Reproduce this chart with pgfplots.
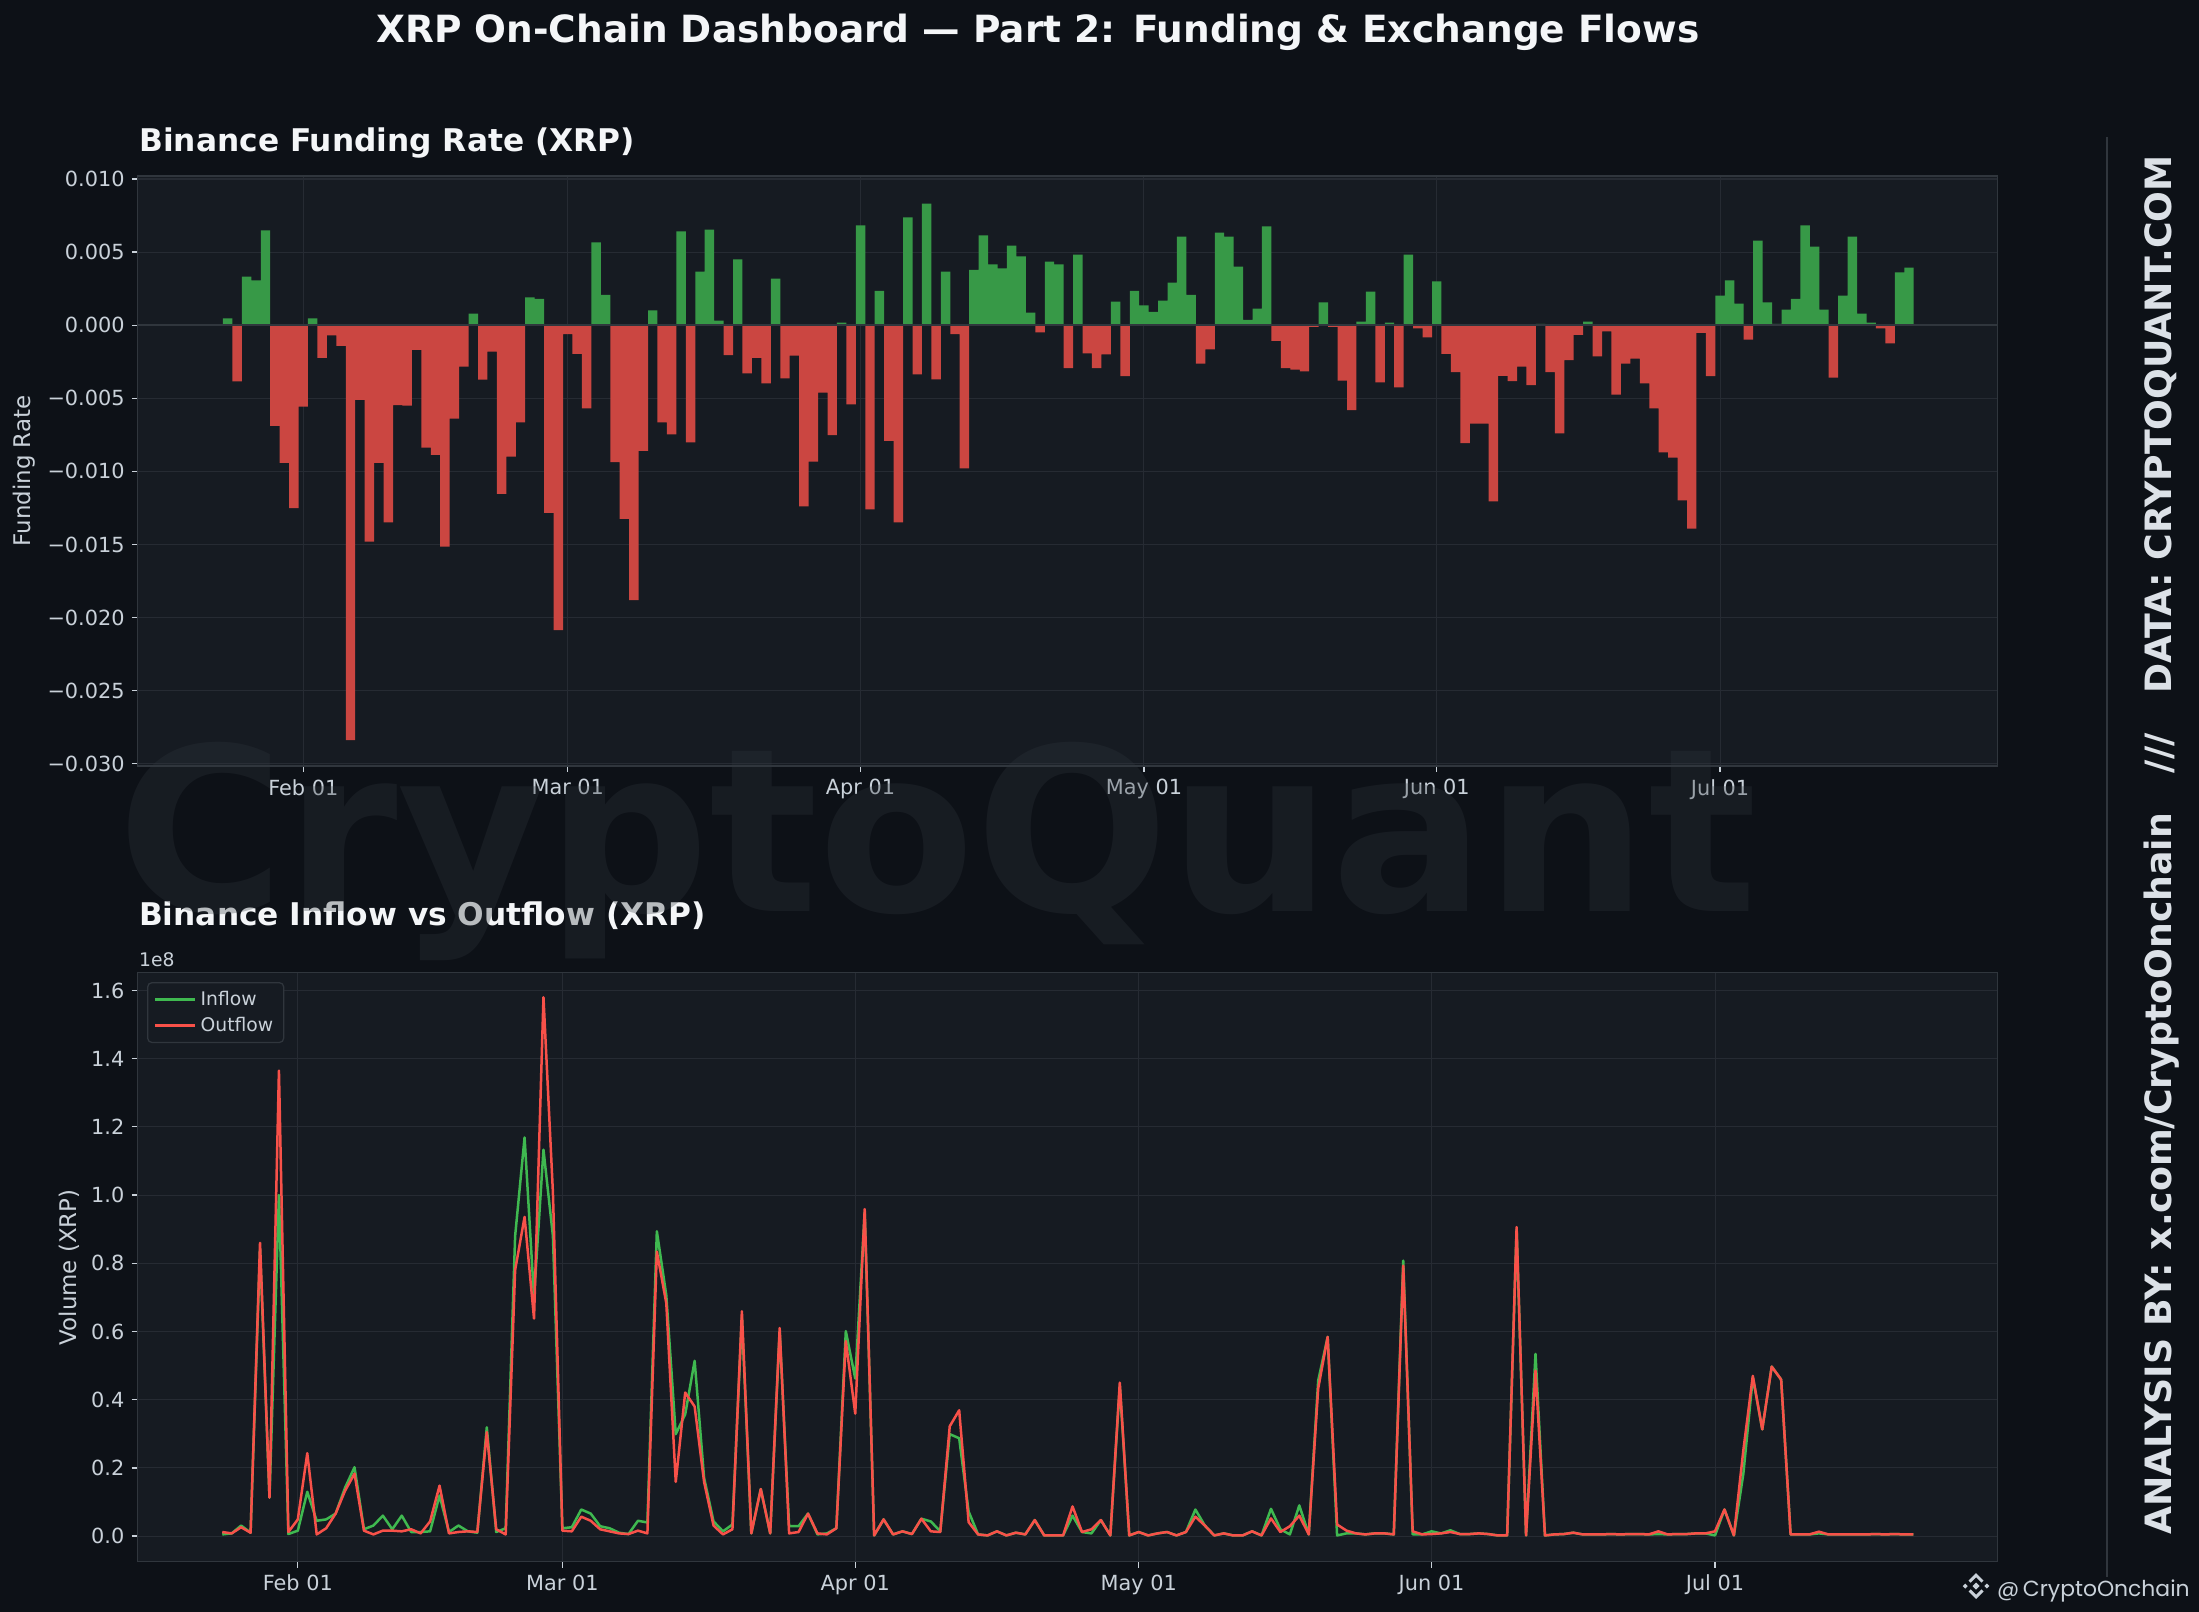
\documentclass[border=0pt]{standalone}
\usepackage{fontspec}
\setmainfont{DejaVu Sans}
\newfontfamily\footfont{Poppins}
\usepackage{pgfplots}
\pgfplotsset{compat=1.18}
\usepackage{pgfplotstable}
\definecolor{figbg}{HTML}{0D1117}
\definecolor{axbg}{HTML}{161B22}
\definecolor{gridc}{HTML}{262B33}
\definecolor{spine}{HTML}{30363D}
\definecolor{tickc}{HTML}{C9D1D9}
\definecolor{titlec}{HTML}{F4F6F8}
\definecolor{barg}{HTML}{379947}
\definecolor{barr}{HTML}{CB4641}
\definecolor{inc}{HTML}{3FB950}
\definecolor{outc}{HTML}{F85149}
\definecolor{sidec}{HTML}{DCE1E7}

\pgfplotstableread{
day fr
23 0.00046
24 -0.00385
25 0.00333
26 0.00306
27 0.00648
28 -0.00688
29 -0.00942
30 -0.01251
31 -0.00557
32 0.00046
33 -0.00223
34 -0.00070
35 -0.00141
36 -0.02838
37 -0.00511
38 -0.01480
39 -0.00942
40 -0.01349
41 -0.00547
42 -0.00550
43 -0.00168
44 -0.00838
45 -0.00887
46 -0.01514
47 -0.00639
48 -0.00284
49 0.00080
50 -0.00373
51 -0.00180
52 -0.01153
53 -0.00899
54 -0.00664
55 0.00190
56 0.00180
57 -0.01284
58 -0.02086
59 -0.00061
60 -0.00196
61 -0.00569
62 0.00566
63 0.00208
64 -0.00936
65 -0.01324
66 -0.01881
67 -0.00859
68 0.00101
69 -0.00664
70 -0.00746
71 0.00642
72 -0.00801
73 0.00367
74 0.00654
75 0.00031
76 -0.00205
77 0.00450
78 -0.00330
79 -0.00223
80 -0.00398
81 0.00318
82 -0.00364
83 -0.00208
84 -0.01239
85 -0.00933
86 -0.00462
87 -0.00752
88 0.00018
89 -0.00541
90 0.00682
91 -0.01260
92 0.00235
93 -0.00792
94 -0.01349
95 0.00737
96 -0.00336
97 0.00832
98 -0.00370
99 0.00367
100 -0.00061
101 -0.00979
102 0.00379
103 0.00615
104 0.00416
105 0.00388
106 0.00544
107 0.00471
108 0.00086
109 -0.00049
110 0.00434
111 0.00416
112 -0.00294
113 0.00483
114 -0.00193
115 -0.00294
116 -0.00199
117 0.00162
118 -0.00349
119 0.00235
120 0.00135
121 0.00092
122 0.00168
123 0.00291
124 0.00606
125 0.00208
126 -0.00263
127 -0.00165
128 0.00633
129 0.00606
130 0.00401
131 0.00037
132 0.00113
133 0.00676
134 -0.00107
135 -0.00294
136 -0.00303
137 -0.00315
138 -0.00012
139 0.00156
140 -0.00012
141 -0.00379
142 -0.00581
143 0.00024
144 0.00229
145 -0.00391
146 0.00018
147 -0.00425
148 0.00483
149 -0.00021
150 -0.00083
151 0.00300
152 -0.00196
153 -0.00321
154 -0.00807
155 -0.00673
156 -0.00673
157 -0.01205
158 -0.00346
159 -0.00382
160 -0.00284
161 -0.00410
162 0.00009
163 -0.00321
164 -0.00740
165 -0.00239
166 -0.00067
167 0.00024
168 -0.00214
169 -0.00043
170 -0.00474
171 -0.00263
172 -0.00229
173 -0.00398
174 -0.00569
175 -0.00869
176 -0.00905
177 -0.01199
178 -0.01391
179 -0.00052
180 -0.00349
181 0.00202
182 0.00306
183 0.00147
184 -0.00098
185 0.00578
186 0.00156
187 0.00009
188 0.00107
189 0.00180
190 0.00682
191 0.00538
192 0.00107
193 -0.00358
194 0.00202
195 0.00606
196 0.00080
197 0.00018
198 -0.00021
199 -0.00125
200 0.00361
201 0.00394
}\fundingtable

\pgfplotstableread{
day inflow outflow
23 0.005 0.012
24 0.008 0.008
25 0.031 0.026
26 0.010 0.010
27 0.84 0.86
28 0.113 0.113
29 1.00 1.365
30 0.006 0.012
31 0.016 0.049
32 0.13 0.243
33 0.045 0.005
34 0.049 0.023
35 0.066 0.066
36 0.142 0.133
37 0.202 0.183
38 0.020 0.016
39 0.031 0.005
40 0.060 0.016
41 0.020 0.016
42 0.060 0.014
43 0.012 0.020
44 0.012 0.008
45 0.014 0.043
46 0.119 0.148
47 0.012 0.008
48 0.031 0.012
49 0.014 0.014
50 0.010 0.012
51 0.319 0.305
52 0.012 0.020
53 0.023 0.005
54 0.88 0.78
55 1.169 0.936
56 0.70 0.638
57 1.133 1.580
58 0.88 1.008
59 0.023 0.016
60 0.026 0.014
61 0.078 0.057
62 0.066 0.045
63 0.029 0.020
64 0.023 0.014
65 0.010 0.008
66 0.006 0.006
67 0.045 0.016
68 0.040 0.008
69 0.894 0.834
70 0.706 0.683
71 0.299 0.159
72 0.357 0.421
73 0.514 0.380
74 0.171 0.159
75 0.043 0.031
76 0.014 0.005
77 0.034 0.020
78 0.64 0.659
79 0.008 0.008
80 0.138 0.138
81 0.008 0.008
82 0.60 0.610
83 0.029 0.008
84 0.029 0.012
85 0.066 0.066
86 0.005 0.008
87 0.008 0.005
88 0.023 0.023
89 0.601 0.572
90 0.462 0.359
91 0.95 0.959
92 0.002 0.002
93 0.049 0.049
94 0.005 0.005
95 0.014 0.014
96 0.006 0.006
97 0.051 0.051
98 0.043 0.014
99 0.014 0.012
100 0.299 0.322
101 0.287 0.369
102 0.072 0.041
103 0.005 0.005
104 0.002 0.002
105 0.014 0.014
106 0.002 0.002
107 0.010 0.010
108 0.005 0.005
109 0.047 0.047
110 0.002 0.002
111 0.002 0.002
112 0.002 0.002
113 0.060 0.087
114 0.012 0.012
115 0.008 0.020
116 0.047 0.047
117 0.002 0.002
118 0.44 0.45
119 0.002 0.002
120 0.012 0.012
121 0.002 0.002
122 0.008 0.008
123 0.012 0.012
124 0.002 0.002
125 0.012 0.012
126 0.078 0.057
127 0.031 0.031
128 0.002 0.002
129 0.008 0.008
130 0.002 0.002
131 0.002 0.002
132 0.014 0.014
133 0.002 0.002
134 0.080 0.052
135 0.020 0.012
136 0.005 0.029
137 0.090 0.060
138 0.005 0.005
139 0.456 0.433
140 0.584 0.584
141 0.002 0.034
142 0.008 0.016
143 0.008 0.008
144 0.005 0.005
145 0.008 0.008
146 0.008 0.008
147 0.005 0.005
148 0.808 0.793
149 0.005 0.014
150 0.005 0.005
151 0.014 0.006
152 0.008 0.008
153 0.017 0.012
154 0.006 0.006
155 0.006 0.006
156 0.008 0.008
157 0.006 0.006
158 0.002 0.002
159 0.002 0.002
160 0.90 0.906
161 0.002 0.002
162 0.534 0.485
163 0.002 0.002
164 0.005 0.005
165 0.006 0.006
166 0.010 0.010
167 0.005 0.005
168 0.005 0.005
169 0.005 0.005
170 0.006 0.006
171 0.005 0.005
172 0.006 0.006
173 0.006 0.006
174 0.005 0.005
175 0.006 0.014
176 0.005 0.005
177 0.006 0.006
178 0.006 0.006
179 0.008 0.008
180 0.008 0.008
181 0.002 0.014
182 0.078 0.078
183 0.002 0.002
184 0.183 0.252
185 0.465 0.470
186 0.313 0.313
187 0.497 0.497
188 0.459 0.459
189 0.005 0.005
190 0.005 0.005
191 0.005 0.005
192 0.008 0.013
193 0.005 0.005
194 0.005 0.005
195 0.005 0.005
196 0.005 0.005
197 0.005 0.005
198 0.006 0.006
199 0.005 0.005
200 0.006 0.006
201 0.005 0.005
202 0.005 0.005
}\flowtable

\pgfplotsset{
  darkax/.style={
    scale only axis,
    width=892.8pt,
    anchor=north west,
    axis background/.style={fill=axbg},
    axis line style={spine, line width=0.6pt},
    grid=major,
    major grid style={gridc, line width=0.5pt},
    tick align=outside,
    xtick pos=left, ytick pos=left,
    major tick length=2.8pt,
    tick style={tickc, line width=0.6pt},
    tick label style={font=\fontsize{10}{12}\selectfont, text=tickc},
    xtick={31,59,90,120,151,181},
    xticklabels={Feb 01,Mar 01,Apr 01,May 01,Jun 01,Jul 01},
    scaled y ticks=false,
  }
}

\begin{document}
\begin{tikzpicture}[x=1pt,y=1pt]
\fill[figbg] (0,0) rectangle (1055.52,-773.76);
\useasboundingbox (0,0) rectangle (1055.52,-773.76);

% top axis
\begin{axis}[darkax,
  at={(66.14pt,-84.43pt)},
  height=283.25pt,
  xmin=13.48, xmax=210.40,
  ymin=-0.03015, ymax=0.010212,
  ytick={-0.03,-0.025,-0.02,-0.015,-0.01,-0.005,0,0.005,0.01},
  yticklabels={−0.030,−0.025,−0.020,−0.015,−0.010,−0.005,0.000,0.005,0.010},
  ylabel={Funding Rate},
  every axis y label/.style={at={(axis description cs:-0.0612,0.5)}, rotate=90, anchor=center, font=\fontsize{11}{13}\selectfont, text=tickc},
]
\addplot[ybar, bar width=1, bar shift=0pt, fill=barg, draw=none, restrict y to domain=0:1] table[x=day,y=fr]{\fundingtable};
\addplot[ybar, bar width=1, bar shift=0pt, fill=barr, draw=none, restrict y to domain=-1:0] table[x=day,y=fr]{\fundingtable};
\addplot[spine, line width=0.7pt, mark=none, forget plot] coordinates {(13.48,0) (210.40,0)};
\end{axis}

% bottom axis
\begin{axis}[darkax,
  at={(66.0pt,-466.9pt)},
  height=282.77pt,
  xmin=14.03, xmax=210.9,
  ymin=-0.0754, ymax=1.652,
  ytick={0,0.2,0.4,0.6,0.8,1.0,1.2,1.4,1.6},
  yticklabels={0.0,0.2,0.4,0.6,0.8,1.0,1.2,1.4,1.6},
  ylabel={Volume (XRP)},
  every axis y label/.style={at={(axis description cs:-0.0369,0.5)}, rotate=90, anchor=center, font=\fontsize{11}{13}\selectfont, text=tickc},
  legend style={at={(0,1)}, anchor=north west, xshift=4.6pt, yshift=-4.5pt,
    fill=axbg, draw=spine, rounded corners=2pt, text=tickc,
    font=\fontsize{9}{11}\selectfont, inner xsep=3pt, inner ysep=2pt, line width=0.6pt},
  legend cell align=left,
  legend image code/.code={\draw[#1] (0pt,0pt) -- (19.2pt,0pt);},
]
\addplot[inc, line width=1.2pt, mark=none, line join=round] table[x=day,y=inflow]{\flowtable};
\addlegendentry{Inflow}
\addplot[outc, line width=1.2pt, mark=none, line join=round] table[x=day,y=outflow]{\flowtable};
\addlegendentry{Outflow}
\end{axis}

% titles
\node[anchor=base, text=titlec, font=\fontsize{18}{21}\selectfont\bfseries] at (498.2,-20.5) {XRP On-Chain Dashboard — Part 2: Funding \& Exchange Flows};
\node[anchor=base west, inner sep=0pt, text=titlec, font=\fontsize{15}{18}\selectfont\bfseries] at (66.7,-72.8) {Binance Funding Rate (XRP)};
\node[anchor=base west, inner sep=0pt, text=titlec, font=\fontsize{15}{18}\selectfont\bfseries] at (66.6,-444.0) {Binance Inflow vs Outflow (XRP)};
\node[anchor=base west, inner sep=0pt, text=tickc, font=\fontsize{9}{11}\selectfont] at (66.6,-464.0) {1e8};

% watermark
\node[anchor=base, inner sep=0pt, text=spine, text opacity=0.3, font=\fontsize{109.5}{112}\selectfont\bfseries] at (450.0,-437.3) {CryptoQuant};

% right side
\draw[spine, line width=1pt] (1011.2,-65.8) -- (1011.2,-757);
\node[rotate=90, anchor=center, inner sep=0pt, text=sidec, font=\fontsize{17.4}{20}\selectfont\bfseries] at (1037.6,-405.6) {ANALYSIS BY: x.com/CryptoOnchain\hspace{1.1em}///\hspace{1.1em}DATA: CRYPTOQUANT.COM};

% footer
\begin{scope}[shift={(948.5,-761.3)}, fill=tickc]
\fill (0,1.7) -- (1.7,0) -- (0,-1.7) -- (-1.7,0) -- cycle;
\fill (-5.2,1.2) -- (-4.0,0) -- (-5.2,-1.2) -- (-6.4,0) -- cycle;
\fill (5.2,1.2) -- (6.4,0) -- (5.2,-1.2) -- (4.0,0) -- cycle;
\fill (0,6.2) -- (3.6,2.6) -- (2.6,1.6) -- (0,4.2) -- (-2.6,1.6) -- (-3.6,2.6) -- cycle;
\fill (0,-6.2) -- (3.6,-2.6) -- (2.6,-1.6) -- (0,-4.2) -- (-2.6,-1.6) -- (-3.6,-2.6) -- cycle;
\end{scope}
\node[anchor=base west, inner sep=0pt, text=tickc, font=\footfont\fontsize{10.5}{12}\selectfont] at (958.4,-766.1) {@\,CryptoOnchain};
\end{tikzpicture}
\end{document}
